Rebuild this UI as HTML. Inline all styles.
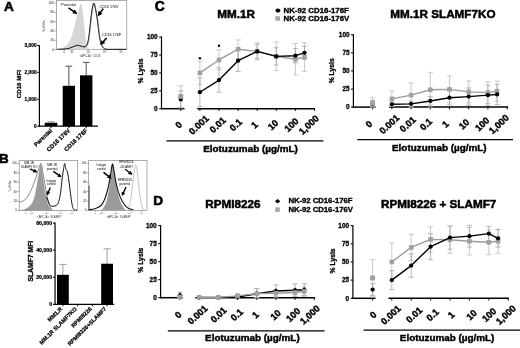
<!DOCTYPE html>
<html><head><meta charset="utf-8"><title>Figure</title>
<style>html,body{margin:0;padding:0;background:#fff;}svg{display:block;}text{font-family:'Liberation Sans', Arial, sans-serif;}</style>
</head><body>
<svg width="520" height="348" viewBox="0 0 520 348">
<rect width="520" height="348" fill="#fff"/>
<defs><marker id="ah" viewBox="0 0 10 10" refX="7" refY="5" markerWidth="3.0" markerHeight="3.0" orient="auto"><path d="M0,0 L10,5 L0,10 z" fill="#000"/></marker></defs>
<filter id="soft2" x="0" y="0" width="520" height="348" filterUnits="userSpaceOnUse"><feGaussianBlur stdDeviation="0.28"/></filter>
<g id="axes" filter="url(#soft2)">
<line x1="39.40" y1="45.20" x2="39.40" y2="126.75" stroke="#000" stroke-width="1.2"/>
<line x1="38.80" y1="126.15" x2="98.00" y2="126.15" stroke="#000" stroke-width="1.2"/>
<line x1="37.20" y1="126.15" x2="39.40" y2="126.15" stroke="#000" stroke-width="1.0"/>
<line x1="37.20" y1="99.25" x2="39.40" y2="99.25" stroke="#000" stroke-width="1.0"/>
<line x1="37.20" y1="72.35" x2="39.40" y2="72.35" stroke="#000" stroke-width="1.0"/>
<line x1="37.20" y1="45.45" x2="39.40" y2="45.45" stroke="#000" stroke-width="1.0"/>
<line x1="51.00" y1="126.15" x2="51.00" y2="128.15" stroke="#000" stroke-width="1.0"/>
<line x1="68.90" y1="126.15" x2="68.90" y2="128.15" stroke="#000" stroke-width="1.0"/>
<line x1="86.20" y1="126.15" x2="86.20" y2="128.15" stroke="#000" stroke-width="1.0"/>
<line x1="55.05" y1="222.40" x2="55.05" y2="304.90" stroke="#000" stroke-width="1.2"/>
<line x1="54.25" y1="304.30" x2="114.20" y2="304.30" stroke="#000" stroke-width="1.2"/>
<line x1="52.85" y1="304.30" x2="55.05" y2="304.30" stroke="#000" stroke-width="1.0"/>
<line x1="52.85" y1="277.25" x2="55.05" y2="277.25" stroke="#000" stroke-width="1.0"/>
<line x1="52.85" y1="250.20" x2="55.05" y2="250.20" stroke="#000" stroke-width="1.0"/>
<line x1="52.85" y1="223.15" x2="55.05" y2="223.15" stroke="#000" stroke-width="1.0"/>
<line x1="62.90" y1="304.30" x2="62.90" y2="306.30" stroke="#000" stroke-width="1.0"/>
<line x1="77.60" y1="304.30" x2="77.60" y2="306.30" stroke="#000" stroke-width="1.0"/>
<line x1="92.40" y1="304.30" x2="92.40" y2="306.30" stroke="#000" stroke-width="1.0"/>
<line x1="107.10" y1="304.30" x2="107.10" y2="306.30" stroke="#000" stroke-width="1.0"/>
<line x1="161.50" y1="36.45" x2="161.50" y2="109.30" stroke="#000" stroke-width="1.2"/>
<line x1="159.20" y1="108.70" x2="161.50" y2="108.70" stroke="#000" stroke-width="1.1"/>
<line x1="159.20" y1="90.79" x2="161.50" y2="90.79" stroke="#000" stroke-width="1.1"/>
<line x1="159.20" y1="72.88" x2="161.50" y2="72.88" stroke="#000" stroke-width="1.1"/>
<line x1="159.20" y1="54.96" x2="161.50" y2="54.96" stroke="#000" stroke-width="1.1"/>
<line x1="159.20" y1="37.05" x2="161.50" y2="37.05" stroke="#000" stroke-width="1.1"/>
<line x1="160.90" y1="108.70" x2="184.50" y2="108.70" stroke="#000" stroke-width="1.5"/>
<line x1="197.20" y1="108.70" x2="315.10" y2="108.70" stroke="#000" stroke-width="1.5"/>
<line x1="180.80" y1="108.70" x2="180.80" y2="110.90" stroke="#000" stroke-width="1.0"/>
<line x1="199.90" y1="108.70" x2="199.90" y2="110.90" stroke="#000" stroke-width="1.0"/>
<line x1="219.00" y1="108.70" x2="219.00" y2="110.90" stroke="#000" stroke-width="1.0"/>
<line x1="238.10" y1="108.70" x2="238.10" y2="110.90" stroke="#000" stroke-width="1.0"/>
<line x1="257.20" y1="108.70" x2="257.20" y2="110.90" stroke="#000" stroke-width="1.0"/>
<line x1="276.30" y1="108.70" x2="276.30" y2="110.90" stroke="#000" stroke-width="1.0"/>
<line x1="295.40" y1="108.70" x2="295.40" y2="110.90" stroke="#000" stroke-width="1.0"/>
<line x1="314.50" y1="108.70" x2="314.50" y2="110.90" stroke="#000" stroke-width="1.0"/>
<line x1="166.50" y1="140.80" x2="323.40" y2="140.80" stroke="#000" stroke-width="1.2"/>
<line x1="353.40" y1="34.20" x2="353.40" y2="107.70" stroke="#000" stroke-width="1.2"/>
<line x1="351.10" y1="107.10" x2="353.40" y2="107.10" stroke="#000" stroke-width="1.1"/>
<line x1="351.10" y1="89.02" x2="353.40" y2="89.02" stroke="#000" stroke-width="1.1"/>
<line x1="351.10" y1="70.95" x2="353.40" y2="70.95" stroke="#000" stroke-width="1.1"/>
<line x1="351.10" y1="52.87" x2="353.40" y2="52.87" stroke="#000" stroke-width="1.1"/>
<line x1="351.10" y1="34.80" x2="353.40" y2="34.80" stroke="#000" stroke-width="1.1"/>
<line x1="352.80" y1="107.10" x2="375.60" y2="107.10" stroke="#000" stroke-width="1.5"/>
<line x1="389.00" y1="107.10" x2="508.10" y2="107.10" stroke="#000" stroke-width="1.5"/>
<line x1="372.60" y1="107.10" x2="372.60" y2="109.30" stroke="#000" stroke-width="1.0"/>
<line x1="391.90" y1="107.10" x2="391.90" y2="109.30" stroke="#000" stroke-width="1.0"/>
<line x1="411.10" y1="107.10" x2="411.10" y2="109.30" stroke="#000" stroke-width="1.0"/>
<line x1="430.30" y1="107.10" x2="430.30" y2="109.30" stroke="#000" stroke-width="1.0"/>
<line x1="449.50" y1="107.10" x2="449.50" y2="109.30" stroke="#000" stroke-width="1.0"/>
<line x1="468.70" y1="107.10" x2="468.70" y2="109.30" stroke="#000" stroke-width="1.0"/>
<line x1="487.90" y1="107.10" x2="487.90" y2="109.30" stroke="#000" stroke-width="1.0"/>
<line x1="507.10" y1="107.10" x2="507.10" y2="109.30" stroke="#000" stroke-width="1.0"/>
<line x1="357.30" y1="139.60" x2="513.00" y2="139.60" stroke="#000" stroke-width="1.2"/>
<line x1="160.60" y1="225.00" x2="160.60" y2="298.30" stroke="#000" stroke-width="1.2"/>
<line x1="158.30" y1="297.70" x2="160.60" y2="297.70" stroke="#000" stroke-width="1.1"/>
<line x1="158.30" y1="279.68" x2="160.60" y2="279.68" stroke="#000" stroke-width="1.1"/>
<line x1="158.30" y1="261.65" x2="160.60" y2="261.65" stroke="#000" stroke-width="1.1"/>
<line x1="158.30" y1="243.62" x2="160.60" y2="243.62" stroke="#000" stroke-width="1.1"/>
<line x1="158.30" y1="225.60" x2="160.60" y2="225.60" stroke="#000" stroke-width="1.1"/>
<line x1="160.00" y1="297.70" x2="183.00" y2="297.70" stroke="#000" stroke-width="1.5"/>
<line x1="195.40" y1="297.70" x2="315.10" y2="297.70" stroke="#000" stroke-width="1.5"/>
<line x1="180.00" y1="297.70" x2="180.00" y2="299.90" stroke="#000" stroke-width="1.0"/>
<line x1="199.20" y1="297.70" x2="199.20" y2="299.90" stroke="#000" stroke-width="1.0"/>
<line x1="218.37" y1="297.70" x2="218.37" y2="299.90" stroke="#000" stroke-width="1.0"/>
<line x1="237.54" y1="297.70" x2="237.54" y2="299.90" stroke="#000" stroke-width="1.0"/>
<line x1="256.71" y1="297.70" x2="256.71" y2="299.90" stroke="#000" stroke-width="1.0"/>
<line x1="275.88" y1="297.70" x2="275.88" y2="299.90" stroke="#000" stroke-width="1.0"/>
<line x1="295.05" y1="297.70" x2="295.05" y2="299.90" stroke="#000" stroke-width="1.0"/>
<line x1="314.22" y1="297.70" x2="314.22" y2="299.90" stroke="#000" stroke-width="1.0"/>
<line x1="167.80" y1="330.80" x2="324.60" y2="330.80" stroke="#000" stroke-width="1.2"/>
<line x1="352.90" y1="225.00" x2="352.90" y2="298.90" stroke="#000" stroke-width="1.2"/>
<line x1="350.60" y1="298.30" x2="352.90" y2="298.30" stroke="#000" stroke-width="1.1"/>
<line x1="350.60" y1="280.12" x2="352.90" y2="280.12" stroke="#000" stroke-width="1.1"/>
<line x1="350.60" y1="261.95" x2="352.90" y2="261.95" stroke="#000" stroke-width="1.1"/>
<line x1="350.60" y1="243.78" x2="352.90" y2="243.78" stroke="#000" stroke-width="1.1"/>
<line x1="350.60" y1="225.60" x2="352.90" y2="225.60" stroke="#000" stroke-width="1.1"/>
<line x1="352.30" y1="298.30" x2="375.60" y2="298.30" stroke="#000" stroke-width="1.5"/>
<line x1="388.40" y1="298.30" x2="508.90" y2="298.30" stroke="#000" stroke-width="1.5"/>
<line x1="372.60" y1="298.30" x2="372.60" y2="300.50" stroke="#000" stroke-width="1.0"/>
<line x1="391.80" y1="298.30" x2="391.80" y2="300.50" stroke="#000" stroke-width="1.0"/>
<line x1="411.20" y1="298.30" x2="411.20" y2="300.50" stroke="#000" stroke-width="1.0"/>
<line x1="430.60" y1="298.30" x2="430.60" y2="300.50" stroke="#000" stroke-width="1.0"/>
<line x1="450.00" y1="298.30" x2="450.00" y2="300.50" stroke="#000" stroke-width="1.0"/>
<line x1="469.40" y1="298.30" x2="469.40" y2="300.50" stroke="#000" stroke-width="1.0"/>
<line x1="488.80" y1="298.30" x2="488.80" y2="300.50" stroke="#000" stroke-width="1.0"/>
<line x1="508.20" y1="298.30" x2="508.20" y2="300.50" stroke="#000" stroke-width="1.0"/>
<line x1="363.50" y1="330.20" x2="520.00" y2="330.20" stroke="#000" stroke-width="1.2"/>
</g>
<filter id="soft" x="0" y="0" width="520" height="348" filterUnits="userSpaceOnUse"><feGaussianBlur stdDeviation="0.45"/></filter>
<g id="main" filter="url(#soft)">
<text x="3.90" y="11.30" font-size="13.6" font-weight="bold" text-anchor="start" fill="#000" stroke="#000" stroke-width="0.612">A</text>
<text x="-1.00" y="163.30" font-size="13.4" font-weight="bold" text-anchor="start" fill="#000" stroke="#000" stroke-width="0.603">B</text>
<text x="154.70" y="11.10" font-size="13.8" font-weight="bold" text-anchor="start" fill="#000" stroke="#000" stroke-width="0.621">C</text>
<text x="153.20" y="204.60" font-size="13.6" font-weight="bold" text-anchor="start" fill="#000" stroke="#000" stroke-width="0.612">D</text>
<rect x="56.4" y="0.6" width="70.4" height="49.0" fill="#fff" stroke="#8a8a8a" stroke-width="0.7"/>
<path d="M58.00,49.40 C58.58,49.27 60.17,49.17 61.50,48.60 C62.83,48.03 64.55,47.30 66.00,46.00 C67.45,44.70 68.93,43.30 70.20,40.80 C71.47,38.30 72.53,34.63 73.60,31.00 C74.67,27.37 75.70,22.50 76.60,19.00 C77.50,15.50 78.27,12.53 79.00,10.00 C79.73,7.47 80.45,3.75 81.00,3.80 C81.55,3.85 81.87,7.20 82.30,10.30 C82.73,13.40 83.18,18.37 83.60,22.40 C84.02,26.43 84.38,30.77 84.80,34.50 C85.22,38.23 85.53,42.42 86.10,44.80 C86.67,47.18 87.38,48.03 88.20,48.80 C89.02,49.57 90.53,49.30 91.00,49.40 Z" fill="#d6d6d6" stroke="#cdcdcd" stroke-width="0.5"/>
<path d="M57.20,49.30 C58.33,49.25 62.00,49.17 64.00,49.00 C66.00,48.83 67.47,48.77 69.20,48.30 C70.93,47.83 73.02,46.72 74.40,46.20 C75.78,45.68 76.35,45.20 77.50,45.20 C78.65,45.20 80.08,45.97 81.30,46.20 C82.52,46.43 83.80,46.97 84.80,46.60 C85.80,46.23 86.58,46.02 87.30,44.00 C88.02,41.98 88.52,38.67 89.10,34.50 C89.68,30.33 90.23,23.60 90.80,19.00 C91.37,14.40 91.98,9.55 92.50,6.90 C93.02,4.25 93.42,2.82 93.90,3.10 C94.38,3.38 94.85,5.95 95.40,8.60 C95.95,11.25 96.62,14.97 97.20,19.00 C97.78,23.03 98.33,28.93 98.90,32.80 C99.47,36.67 99.93,39.77 100.60,42.20 C101.27,44.63 101.95,46.23 102.90,47.40 C103.85,48.57 104.28,48.88 106.30,49.20 C108.32,49.52 111.65,49.28 115.00,49.30 C118.35,49.32 124.50,49.30 126.40,49.30" fill="none" stroke="#111" stroke-width="1.0" stroke-linejoin="round"/>
<path d="M74.90,46.60 C75.42,46.43 76.85,45.60 78.00,45.60 C79.15,45.60 80.58,46.37 81.80,46.60 C83.02,46.83 84.30,47.37 85.30,47.00 C86.30,46.63 87.08,46.42 87.80,44.40 C88.52,42.38 89.02,39.07 89.60,34.90 C90.18,30.73 90.73,24.00 91.30,19.40 C91.87,14.80 92.48,9.95 93.00,7.30 C93.52,4.65 93.92,3.22 94.40,3.50 C94.88,3.78 95.35,6.35 95.90,9.00 C96.45,11.65 97.12,15.37 97.70,19.40 C98.28,23.43 98.83,29.33 99.40,33.20 C99.97,37.07 100.43,40.17 101.10,42.60 C101.77,45.03 102.45,46.63 103.40,47.80 C104.35,48.97 106.23,49.30 106.80,49.60" fill="none" stroke="#555" stroke-width="0.5"/>
<line x1="54.40" y1="3.10" x2="56.40" y2="3.10" stroke="#444" stroke-width="0.5"/>
<text x="53.60" y="4.05" font-size="2.9" font-weight="normal" text-anchor="end" fill="#111">100</text>
<line x1="54.40" y1="12.40" x2="56.40" y2="12.40" stroke="#444" stroke-width="0.5"/>
<text x="53.60" y="13.35" font-size="2.9" font-weight="normal" text-anchor="end" fill="#111">80</text>
<line x1="54.40" y1="21.70" x2="56.40" y2="21.70" stroke="#444" stroke-width="0.5"/>
<text x="53.60" y="22.65" font-size="2.9" font-weight="normal" text-anchor="end" fill="#111">60</text>
<line x1="54.40" y1="31.00" x2="56.40" y2="31.00" stroke="#444" stroke-width="0.5"/>
<text x="53.60" y="31.95" font-size="2.9" font-weight="normal" text-anchor="end" fill="#111">40</text>
<line x1="54.40" y1="40.30" x2="56.40" y2="40.30" stroke="#444" stroke-width="0.5"/>
<text x="53.60" y="41.25" font-size="2.9" font-weight="normal" text-anchor="end" fill="#111">20</text>
<line x1="54.40" y1="49.60" x2="56.40" y2="49.60" stroke="#444" stroke-width="0.5"/>
<text x="53.60" y="50.55" font-size="2.9" font-weight="normal" text-anchor="end" fill="#111">0</text>
<text transform="translate(45.20,26.00) rotate(-90)" font-size="2.8" font-weight="normal" text-anchor="middle" fill="#333">% of Max</text>
<line x1="64.20" y1="49.70" x2="64.20" y2="50.60" stroke="#444" stroke-width="0.5"/>
<text x="64.20" y="53.00" font-size="2.6" font-weight="normal" text-anchor="middle" fill="#333">0</text>
<line x1="72.00" y1="49.70" x2="72.00" y2="50.60" stroke="#444" stroke-width="0.5"/>
<text x="72.00" y="53.00" font-size="2.6" font-weight="normal" text-anchor="middle" fill="#333">10²</text>
<line x1="88.40" y1="49.70" x2="88.40" y2="50.60" stroke="#444" stroke-width="0.5"/>
<text x="88.40" y="53.00" font-size="2.6" font-weight="normal" text-anchor="middle" fill="#333">10³</text>
<line x1="105.00" y1="49.70" x2="105.00" y2="50.60" stroke="#444" stroke-width="0.5"/>
<text x="105.00" y="53.00" font-size="2.6" font-weight="normal" text-anchor="middle" fill="#333">10⁴</text>
<line x1="121.30" y1="49.70" x2="121.30" y2="50.60" stroke="#444" stroke-width="0.5"/>
<text x="121.30" y="53.00" font-size="2.6" font-weight="normal" text-anchor="middle" fill="#333">10⁵</text>
<text x="90.00" y="57.00" font-size="2.8" font-weight="normal" text-anchor="middle" fill="#333">&lt;APC-A&gt;: CD16</text>
<text x="68.50" y="6.30" font-size="3.9" font-weight="normal" text-anchor="middle" fill="#000">Parental</text>
<line x1="68.5" y1="7.8" x2="76.2" y2="13.2" stroke="#000" stroke-width="1.625" marker-end="url(#ah)"/>
<text x="109.00" y="7.70" font-size="3.65" font-weight="normal" text-anchor="middle" fill="#000">CD16 176V</text>
<line x1="103.2" y1="8.6" x2="98.6" y2="15.0" stroke="#000" stroke-width="1.625" marker-end="url(#ah)"/>
<text x="111.60" y="36.20" font-size="3.75" font-weight="normal" text-anchor="middle" fill="#000">CD16 176F</text>
<line x1="106.6" y1="38" x2="101.2" y2="44.0" stroke="#000" stroke-width="1.625" marker-end="url(#ah)"/>
<text x="36.60" y="127.90" font-size="4.8" font-weight="bold" text-anchor="end" fill="#000" stroke="#000" stroke-width="0.216">0</text>
<text x="36.60" y="101.00" font-size="4.8" font-weight="bold" text-anchor="end" fill="#000" stroke="#000" stroke-width="0.216">1,000</text>
<text x="36.60" y="74.10" font-size="4.8" font-weight="bold" text-anchor="end" fill="#000" stroke="#000" stroke-width="0.216">2,000</text>
<text x="36.60" y="47.20" font-size="4.8" font-weight="bold" text-anchor="end" fill="#000" stroke="#000" stroke-width="0.216">3,000</text>
<line x1="47.50" y1="121.85" x2="54.50" y2="121.85" stroke="#333" stroke-width="0.6"/>
<rect x="44.7" y="122.79" width="12.60" height="3.36" fill="#000"/>
<line x1="68.85" y1="66.16" x2="68.85" y2="85.80" stroke="#3c3c3c" stroke-width="0.9"/>
<line x1="65.45" y1="66.16" x2="72.25" y2="66.16" stroke="#3c3c3c" stroke-width="0.9"/>
<rect x="62.7" y="85.80" width="12.30" height="40.35" fill="#000"/>
<line x1="86.20" y1="62.40" x2="86.20" y2="75.31" stroke="#3c3c3c" stroke-width="0.9"/>
<line x1="82.80" y1="62.40" x2="89.60" y2="62.40" stroke="#3c3c3c" stroke-width="0.9"/>
<rect x="80.0" y="75.31" width="12.40" height="50.84" fill="#000"/>
<text transform="translate(20.70,84.20) rotate(-90)" font-size="6.2" font-weight="bold" text-anchor="middle" fill="#000" stroke="#000" stroke-width="0.279">CD16 MFI</text>
<text transform="translate(52.60,131.05) rotate(-44)" font-size="5.8" font-weight="bold" text-anchor="end" fill="#000" stroke="#000" stroke-width="0.261">Parental</text>
<text transform="translate(70.50,131.05) rotate(-44)" font-size="5.8" font-weight="bold" text-anchor="end" fill="#000" stroke="#000" stroke-width="0.261">CD16 176V</text>
<text transform="translate(87.80,131.05) rotate(-44)" font-size="5.8" font-weight="bold" text-anchor="end" fill="#000" stroke="#000" stroke-width="0.261">CD16 176F</text>
<rect x="19.2" y="160.5" width="58.5" height="50.0" fill="#fff" stroke="#8a8a8a" stroke-width="0.7"/>
<path d="M19.40,202.20 C20.00,202.02 21.72,201.90 23.00,201.10 C24.28,200.30 25.75,199.22 27.10,197.40 C28.45,195.58 29.90,192.75 31.10,190.20 C32.30,187.65 33.23,185.05 34.30,182.10 C35.37,179.15 36.57,175.32 37.50,172.50 C38.43,169.68 39.28,166.65 39.90,165.20 C40.52,163.75 40.65,162.32 41.20,163.80 C41.75,165.28 42.53,170.40 43.20,174.10 C43.87,177.80 44.53,182.25 45.20,186.00 C45.87,189.75 46.47,193.35 47.20,196.60 C47.93,199.85 48.80,203.35 49.60,205.50 C50.40,207.65 51.60,208.83 52.00,209.50" fill="none" stroke="#7c7c7c" stroke-width="0.9"/>
<path d="M21.00,210.30 C21.20,210.28 21.32,210.47 22.20,210.20 C23.08,209.93 24.82,209.62 26.30,208.70 C27.78,207.78 29.77,206.45 31.10,204.70 C32.43,202.95 33.37,201.15 34.30,198.20 C35.23,195.25 35.95,191.02 36.70,187.00 C37.45,182.98 38.13,177.90 38.80,174.10 C39.47,170.30 40.10,164.20 40.70,164.20 C41.30,164.20 41.85,170.57 42.40,174.10 C42.95,177.63 43.42,181.65 44.00,185.40 C44.58,189.15 45.23,193.38 45.90,196.60 C46.57,199.82 47.12,202.55 48.00,204.70 C48.88,206.85 50.37,208.57 51.20,209.50 C52.03,210.43 52.70,210.17 53.00,210.30 Z" fill="#9b9b9b" stroke="#909090" stroke-width="0.4"/>
<path d="M46.40,196.60 C46.93,197.95 48.53,203.08 49.60,204.70 C50.67,206.32 51.53,206.30 52.80,206.30 C54.07,206.30 56.13,205.78 57.20,204.70 C58.27,203.62 58.58,202.22 59.20,199.80 C59.82,197.38 60.42,193.68 60.90,190.20 C61.38,186.72 61.70,182.12 62.10,178.90 C62.50,175.68 62.88,173.45 63.30,170.90 C63.72,168.35 64.20,164.00 64.60,163.60 C65.00,163.20 65.25,167.15 65.70,168.50 C66.15,169.85 66.82,169.97 67.30,171.70 C67.78,173.43 68.07,175.28 68.60,178.90 C69.13,182.52 69.92,189.10 70.50,193.40 C71.08,197.70 71.57,202.07 72.10,204.70 C72.63,207.33 72.88,208.28 73.70,209.20 C74.52,210.12 76.45,210.03 77.00,210.20" fill="none" stroke="#111" stroke-width="1.0" stroke-linejoin="round"/>
<rect x="88.7" y="160.5" width="58.3" height="50.0" fill="#fff" stroke="#8a8a8a" stroke-width="0.7"/>
<path d="M126.00,210.20 C126.40,210.08 127.58,211.50 128.40,209.50 C129.22,207.50 130.22,202.22 130.90,198.20 C131.58,194.18 131.97,189.68 132.50,185.40 C133.03,181.12 133.57,175.87 134.10,172.50 C134.63,169.13 135.17,165.20 135.70,165.20 C136.23,165.20 136.77,168.87 137.30,172.50 C137.83,176.13 138.37,182.45 138.90,187.00 C139.43,191.55 139.83,196.18 140.50,199.80 C141.17,203.42 142.10,207.00 142.90,208.70 C143.70,210.40 144.90,209.78 145.30,210.00" fill="none" stroke="#b2b2b2" stroke-width="0.8"/>
<path d="M99.00,210.30 C99.48,210.17 100.75,210.72 101.90,209.50 C103.05,208.28 104.75,206.22 105.90,203.00 C107.05,199.78 107.98,194.70 108.80,190.20 C109.62,185.70 110.20,180.17 110.80,176.00 C111.40,171.83 111.73,164.98 112.40,165.20 C113.07,165.42 114.00,173.13 114.80,177.30 C115.60,181.47 116.27,186.18 117.20,190.20 C118.13,194.22 119.20,198.32 120.40,201.40 C121.60,204.48 123.30,207.22 124.40,208.70 C125.50,210.18 126.57,210.03 127.00,210.30 Z" fill="#9b9b9b" stroke="none"/>
<path d="M89.00,209.80 C89.95,209.62 92.68,209.42 94.70,208.70 C96.72,207.98 99.37,207.25 101.10,205.50 C102.83,203.75 103.90,201.28 105.10,198.20 C106.30,195.12 107.42,190.75 108.30,187.00 C109.18,183.25 109.72,179.50 110.40,175.70 C111.08,171.90 111.80,165.00 112.40,164.20 C113.00,163.40 113.42,167.92 114.00,170.90 C114.58,173.88 115.10,178.35 115.90,182.10 C116.70,185.85 117.65,190.05 118.80,193.40 C119.95,196.75 121.33,199.78 122.80,202.20 C124.27,204.62 125.85,206.63 127.60,207.90 C129.35,209.17 132.35,209.48 133.30,209.80" fill="none" stroke="#111" stroke-width="1.1" stroke-linejoin="round"/>
<line x1="89.10" y1="185.50" x2="89.10" y2="210.40" stroke="#222" stroke-width="0.8"/>
<line x1="17.40" y1="163.40" x2="19.20" y2="163.40" stroke="#444" stroke-width="0.5"/>
<text x="16.70" y="164.35" font-size="2.7" font-weight="normal" text-anchor="end" fill="#111">100</text>
<line x1="17.40" y1="172.80" x2="19.20" y2="172.80" stroke="#444" stroke-width="0.5"/>
<text x="16.70" y="173.75" font-size="2.7" font-weight="normal" text-anchor="end" fill="#111">80</text>
<line x1="17.40" y1="182.20" x2="19.20" y2="182.20" stroke="#444" stroke-width="0.5"/>
<text x="16.70" y="183.15" font-size="2.7" font-weight="normal" text-anchor="end" fill="#111">60</text>
<line x1="17.40" y1="191.60" x2="19.20" y2="191.60" stroke="#444" stroke-width="0.5"/>
<text x="16.70" y="192.55" font-size="2.7" font-weight="normal" text-anchor="end" fill="#111">40</text>
<line x1="17.40" y1="201.00" x2="19.20" y2="201.00" stroke="#444" stroke-width="0.5"/>
<text x="16.70" y="201.95" font-size="2.7" font-weight="normal" text-anchor="end" fill="#111">20</text>
<line x1="17.40" y1="210.40" x2="19.20" y2="210.40" stroke="#444" stroke-width="0.5"/>
<text x="16.70" y="211.35" font-size="2.7" font-weight="normal" text-anchor="end" fill="#111">0</text>
<text transform="translate(11.00,186.00) rotate(-90)" font-size="2.6" font-weight="normal" text-anchor="middle" fill="#333">% of Max</text>
<line x1="25.80" y1="210.80" x2="25.80" y2="211.70" stroke="#444" stroke-width="0.5"/>
<text x="25.80" y="214.20" font-size="2.4" font-weight="normal" text-anchor="middle" fill="#333">0</text>
<line x1="31.80" y1="210.80" x2="31.80" y2="211.70" stroke="#444" stroke-width="0.5"/>
<text x="31.80" y="214.20" font-size="2.4" font-weight="normal" text-anchor="middle" fill="#333">10²</text>
<line x1="46.50" y1="210.80" x2="46.50" y2="211.70" stroke="#444" stroke-width="0.5"/>
<text x="46.50" y="214.20" font-size="2.4" font-weight="normal" text-anchor="middle" fill="#333">10³</text>
<line x1="60.40" y1="210.80" x2="60.40" y2="211.70" stroke="#444" stroke-width="0.5"/>
<text x="60.40" y="214.20" font-size="2.4" font-weight="normal" text-anchor="middle" fill="#333">10⁴</text>
<line x1="72.10" y1="210.80" x2="72.10" y2="211.70" stroke="#444" stroke-width="0.5"/>
<text x="72.10" y="214.20" font-size="2.4" font-weight="normal" text-anchor="middle" fill="#333">10⁵</text>
<text x="49.20" y="218.20" font-size="2.8" font-weight="normal" text-anchor="middle" fill="#333">&lt;APC-A&gt;: SLAMF7</text>
<line x1="87.00" y1="163.40" x2="88.80" y2="163.40" stroke="#444" stroke-width="0.5"/>
<text x="86.30" y="164.35" font-size="2.7" font-weight="normal" text-anchor="end" fill="#111">100</text>
<line x1="87.00" y1="172.80" x2="88.80" y2="172.80" stroke="#444" stroke-width="0.5"/>
<text x="86.30" y="173.75" font-size="2.7" font-weight="normal" text-anchor="end" fill="#111">80</text>
<line x1="87.00" y1="182.20" x2="88.80" y2="182.20" stroke="#444" stroke-width="0.5"/>
<text x="86.30" y="183.15" font-size="2.7" font-weight="normal" text-anchor="end" fill="#111">60</text>
<line x1="87.00" y1="191.60" x2="88.80" y2="191.60" stroke="#444" stroke-width="0.5"/>
<text x="86.30" y="192.55" font-size="2.7" font-weight="normal" text-anchor="end" fill="#111">40</text>
<line x1="87.00" y1="201.00" x2="88.80" y2="201.00" stroke="#444" stroke-width="0.5"/>
<text x="86.30" y="201.95" font-size="2.7" font-weight="normal" text-anchor="end" fill="#111">20</text>
<line x1="87.00" y1="210.40" x2="88.80" y2="210.40" stroke="#444" stroke-width="0.5"/>
<text x="86.30" y="211.35" font-size="2.7" font-weight="normal" text-anchor="end" fill="#111">0</text>
<line x1="95.40" y1="210.80" x2="95.40" y2="211.70" stroke="#444" stroke-width="0.5"/>
<text x="95.40" y="214.20" font-size="2.4" font-weight="normal" text-anchor="middle" fill="#333">0</text>
<line x1="101.40" y1="210.80" x2="101.40" y2="211.70" stroke="#444" stroke-width="0.5"/>
<text x="101.40" y="214.20" font-size="2.4" font-weight="normal" text-anchor="middle" fill="#333">10²</text>
<line x1="116.10" y1="210.80" x2="116.10" y2="211.70" stroke="#444" stroke-width="0.5"/>
<text x="116.10" y="214.20" font-size="2.4" font-weight="normal" text-anchor="middle" fill="#333">10³</text>
<line x1="130.00" y1="210.80" x2="130.00" y2="211.70" stroke="#444" stroke-width="0.5"/>
<text x="130.00" y="214.20" font-size="2.4" font-weight="normal" text-anchor="middle" fill="#333">10⁴</text>
<line x1="141.70" y1="210.80" x2="141.70" y2="211.70" stroke="#444" stroke-width="0.5"/>
<text x="141.70" y="214.20" font-size="2.4" font-weight="normal" text-anchor="middle" fill="#333">10⁵</text>
<text x="118.80" y="218.20" font-size="2.8" font-weight="normal" text-anchor="middle" fill="#333">&lt;APC-A&gt;: SLAMF7</text>
<text x="29.20" y="163.90" font-size="3.0" font-weight="normal" text-anchor="middle" fill="#000">MM.1R</text>
<text x="29.20" y="167.90" font-size="3.0" font-weight="normal" text-anchor="middle" fill="#000">SLAMF7 KO</text>
<line x1="30" y1="168.8" x2="36.4" y2="171.8" stroke="#000" stroke-width="1.375" marker-end="url(#ah)"/>
<text x="52.20" y="166.30" font-size="3.0" font-weight="normal" text-anchor="middle" fill="#000">MM.1R</text>
<text x="52.20" y="170.30" font-size="3.0" font-weight="normal" text-anchor="middle" fill="#000">parental</text>
<line x1="53.4" y1="171.4" x2="60.6" y2="176.6" stroke="#000" stroke-width="1.375" marker-end="url(#ah)"/>
<text x="51.30" y="181.60" font-size="3.0" font-weight="normal" text-anchor="middle" fill="#000">Isotype</text>
<text x="51.30" y="185.40" font-size="3.0" font-weight="normal" text-anchor="middle" fill="#000">control</text>
<line x1="50.3" y1="187.5" x2="47.3" y2="194.4" stroke="#000" stroke-width="1.375" marker-end="url(#ah)"/>
<text x="101.40" y="166.00" font-size="3.0" font-weight="normal" text-anchor="middle" fill="#000">Isotype</text>
<text x="101.40" y="170.20" font-size="3.0" font-weight="normal" text-anchor="middle" fill="#000">control</text>
<line x1="103.5" y1="172.3" x2="110.6" y2="177.9" stroke="#000" stroke-width="1.5" marker-end="url(#ah)"/>
<text x="126.30" y="163.30" font-size="3.0" font-weight="normal" text-anchor="middle" fill="#000">RPMI8226</text>
<text x="126.30" y="167.80" font-size="3.0" font-weight="normal" text-anchor="middle" fill="#000">+SLAMF7</text>
<line x1="125.2" y1="169.2" x2="131.5" y2="174.0" stroke="#000" stroke-width="1.375" marker-end="url(#ah)"/>
<text x="124.80" y="180.70" font-size="3.0" font-weight="normal" text-anchor="middle" fill="#000">RPMI8226</text>
<text x="124.80" y="185.00" font-size="3.0" font-weight="normal" text-anchor="middle" fill="#000">parental</text>
<line x1="126" y1="187" x2="122.4" y2="194.9" stroke="#000" stroke-width="1.375" marker-end="url(#ah)"/>
<text x="52.05" y="306.20" font-size="5.2" font-weight="bold" text-anchor="end" fill="#000" stroke="#000" stroke-width="0.234">0</text>
<text x="52.05" y="279.15" font-size="5.2" font-weight="bold" text-anchor="end" fill="#000" stroke="#000" stroke-width="0.234">20,000</text>
<text x="52.05" y="252.10" font-size="5.2" font-weight="bold" text-anchor="end" fill="#000" stroke="#000" stroke-width="0.234">40,000</text>
<text x="52.05" y="225.05" font-size="5.2" font-weight="bold" text-anchor="end" fill="#000" stroke="#000" stroke-width="0.234">60,000</text>
<line x1="62.90" y1="264.40" x2="62.90" y2="274.82" stroke="#8a8a8a" stroke-width="0.8"/>
<line x1="59.30" y1="264.40" x2="66.50" y2="264.40" stroke="#8a8a8a" stroke-width="0.8"/>
<rect x="57.0" y="274.82" width="11.80" height="29.48" fill="#000"/>
<line x1="107.10" y1="248.85" x2="107.10" y2="263.73" stroke="#8a8a8a" stroke-width="0.8"/>
<line x1="103.50" y1="248.85" x2="110.70" y2="248.85" stroke="#8a8a8a" stroke-width="0.8"/>
<rect x="101.2" y="263.73" width="11.80" height="40.57" fill="#000"/>
<text transform="translate(33.20,261.20) rotate(-90)" font-size="6.8" font-weight="bold" text-anchor="middle" fill="#000" stroke="#000" stroke-width="0.306">SLAMF7 MFI</text>
<text transform="translate(62.60,309.30) rotate(-45)" font-size="5.6" font-weight="bold" text-anchor="end" fill="#000" stroke="#000" stroke-width="0.252">MM1.R</text>
<text transform="translate(77.30,309.30) rotate(-45)" font-size="5.6" font-weight="bold" text-anchor="end" fill="#000" stroke="#000" stroke-width="0.252">MM.1R SLAMF7KO</text>
<text transform="translate(92.10,309.30) rotate(-45)" font-size="5.6" font-weight="bold" text-anchor="end" fill="#000" stroke="#000" stroke-width="0.252">RPMI8226</text>
<text transform="translate(106.80,309.30) rotate(-45)" font-size="5.6" font-weight="bold" text-anchor="end" fill="#000" stroke="#000" stroke-width="0.252">RPMI8226+SLAMF7</text>
<ellipse cx="277.9" cy="10.6" rx="2.5" ry="2.1" fill="#000"/>
<text x="283.50" y="12.60" font-size="7.85" font-weight="bold" text-anchor="start" fill="#000" stroke="#000" stroke-width="0.353">NK-92 CD16-176F</text>
<rect x="275.4" y="16.2" width="4.6" height="4.5" fill="#a6a6a6"/>
<text x="283.50" y="21.30" font-size="7.85" font-weight="bold" text-anchor="start" fill="#000" stroke="#000" stroke-width="0.353">NK-92 CD16-176V</text>
<path d="M277.6,198.9 L280.3,201.2 L277.6,203.5 L274.9,201.2 Z" fill="#000"/>
<text x="288.40" y="203.30" font-size="7.7" font-weight="bold" text-anchor="start" fill="#000" stroke="#000" stroke-width="0.346">NK-92 CD16-176F</text>
<rect x="275.2" y="207.4" width="4.6" height="4.5" fill="#a8a8a8"/>
<text x="288.40" y="212.10" font-size="7.7" font-weight="bold" text-anchor="start" fill="#000" stroke="#000" stroke-width="0.346">NK-92 CD16-176V</text>
<text x="157.60" y="111.00" font-size="6.4" font-weight="bold" text-anchor="end" fill="#000" stroke="#000" stroke-width="0.288">0</text>
<text x="157.60" y="93.09" font-size="6.4" font-weight="bold" text-anchor="end" fill="#000" stroke="#000" stroke-width="0.288">25</text>
<text x="157.60" y="75.17" font-size="6.4" font-weight="bold" text-anchor="end" fill="#000" stroke="#000" stroke-width="0.288">50</text>
<text x="157.60" y="57.26" font-size="6.4" font-weight="bold" text-anchor="end" fill="#000" stroke="#000" stroke-width="0.288">75</text>
<text x="157.60" y="39.35" font-size="6.4" font-weight="bold" text-anchor="end" fill="#000" stroke="#000" stroke-width="0.288">100</text>
<text transform="translate(143.00,71.00) rotate(-90)" font-size="6.8" font-weight="bold" text-anchor="middle" fill="#000" stroke="#000" stroke-width="0.306">% Lysis</text>
<line x1="180.80" y1="85.77" x2="180.80" y2="107.27" stroke="#bdbdbd" stroke-width="0.8"/>
<line x1="178.20" y1="85.77" x2="183.40" y2="85.77" stroke="#bdbdbd" stroke-width="0.8"/>
<line x1="178.20" y1="107.27" x2="183.40" y2="107.27" stroke="#bdbdbd" stroke-width="0.8"/>
<line x1="199.90" y1="61.41" x2="199.90" y2="84.34" stroke="#bdbdbd" stroke-width="0.8"/>
<line x1="197.30" y1="61.41" x2="202.50" y2="61.41" stroke="#bdbdbd" stroke-width="0.8"/>
<line x1="197.30" y1="84.34" x2="202.50" y2="84.34" stroke="#bdbdbd" stroke-width="0.8"/>
<line x1="219.00" y1="49.95" x2="219.00" y2="70.01" stroke="#bdbdbd" stroke-width="0.8"/>
<line x1="216.40" y1="49.95" x2="221.60" y2="49.95" stroke="#bdbdbd" stroke-width="0.8"/>
<line x1="216.40" y1="70.01" x2="221.60" y2="70.01" stroke="#bdbdbd" stroke-width="0.8"/>
<line x1="238.10" y1="39.92" x2="238.10" y2="58.55" stroke="#bdbdbd" stroke-width="0.8"/>
<line x1="235.50" y1="39.92" x2="240.70" y2="39.92" stroke="#bdbdbd" stroke-width="0.8"/>
<line x1="235.50" y1="58.55" x2="240.70" y2="58.55" stroke="#bdbdbd" stroke-width="0.8"/>
<line x1="257.20" y1="42.78" x2="257.20" y2="59.98" stroke="#bdbdbd" stroke-width="0.8"/>
<line x1="254.60" y1="42.78" x2="259.80" y2="42.78" stroke="#bdbdbd" stroke-width="0.8"/>
<line x1="254.60" y1="59.98" x2="259.80" y2="59.98" stroke="#bdbdbd" stroke-width="0.8"/>
<line x1="276.30" y1="42.07" x2="276.30" y2="70.73" stroke="#bdbdbd" stroke-width="0.8"/>
<line x1="273.70" y1="42.07" x2="278.90" y2="42.07" stroke="#bdbdbd" stroke-width="0.8"/>
<line x1="273.70" y1="70.73" x2="278.90" y2="70.73" stroke="#bdbdbd" stroke-width="0.8"/>
<line x1="295.40" y1="43.50" x2="295.40" y2="75.02" stroke="#bdbdbd" stroke-width="0.8"/>
<line x1="292.80" y1="43.50" x2="298.00" y2="43.50" stroke="#bdbdbd" stroke-width="0.8"/>
<line x1="292.80" y1="75.02" x2="298.00" y2="75.02" stroke="#bdbdbd" stroke-width="0.8"/>
<line x1="304.51" y1="42.78" x2="304.51" y2="71.44" stroke="#bdbdbd" stroke-width="0.8"/>
<line x1="301.91" y1="42.78" x2="307.11" y2="42.78" stroke="#bdbdbd" stroke-width="0.8"/>
<line x1="301.91" y1="71.44" x2="307.11" y2="71.44" stroke="#bdbdbd" stroke-width="0.8"/>
<line x1="180.80" y1="90.79" x2="180.80" y2="107.98" stroke="#a6a6a6" stroke-width="0.8"/>
<line x1="178.20" y1="90.79" x2="183.40" y2="90.79" stroke="#a6a6a6" stroke-width="0.8"/>
<line x1="178.20" y1="107.98" x2="183.40" y2="107.98" stroke="#a6a6a6" stroke-width="0.8"/>
<line x1="199.90" y1="77.89" x2="199.90" y2="106.55" stroke="#a6a6a6" stroke-width="0.8"/>
<line x1="197.30" y1="77.89" x2="202.50" y2="77.89" stroke="#a6a6a6" stroke-width="0.8"/>
<line x1="197.30" y1="106.55" x2="202.50" y2="106.55" stroke="#a6a6a6" stroke-width="0.8"/>
<line x1="219.00" y1="67.86" x2="219.00" y2="92.22" stroke="#a6a6a6" stroke-width="0.8"/>
<line x1="216.40" y1="67.86" x2="221.60" y2="67.86" stroke="#a6a6a6" stroke-width="0.8"/>
<line x1="216.40" y1="92.22" x2="221.60" y2="92.22" stroke="#a6a6a6" stroke-width="0.8"/>
<line x1="238.10" y1="49.95" x2="238.10" y2="71.44" stroke="#a6a6a6" stroke-width="0.8"/>
<line x1="235.50" y1="49.95" x2="240.70" y2="49.95" stroke="#a6a6a6" stroke-width="0.8"/>
<line x1="235.50" y1="71.44" x2="240.70" y2="71.44" stroke="#a6a6a6" stroke-width="0.8"/>
<line x1="257.20" y1="44.22" x2="257.20" y2="58.55" stroke="#a6a6a6" stroke-width="0.8"/>
<line x1="254.60" y1="44.22" x2="259.80" y2="44.22" stroke="#a6a6a6" stroke-width="0.8"/>
<line x1="254.60" y1="58.55" x2="259.80" y2="58.55" stroke="#a6a6a6" stroke-width="0.8"/>
<line x1="276.30" y1="47.80" x2="276.30" y2="64.99" stroke="#a6a6a6" stroke-width="0.8"/>
<line x1="273.70" y1="47.80" x2="278.90" y2="47.80" stroke="#a6a6a6" stroke-width="0.8"/>
<line x1="273.70" y1="64.99" x2="278.90" y2="64.99" stroke="#a6a6a6" stroke-width="0.8"/>
<line x1="295.40" y1="48.51" x2="295.40" y2="62.84" stroke="#a6a6a6" stroke-width="0.8"/>
<line x1="292.80" y1="48.51" x2="298.00" y2="48.51" stroke="#a6a6a6" stroke-width="0.8"/>
<line x1="292.80" y1="62.84" x2="298.00" y2="62.84" stroke="#a6a6a6" stroke-width="0.8"/>
<line x1="304.51" y1="46.36" x2="304.51" y2="59.26" stroke="#a6a6a6" stroke-width="0.8"/>
<line x1="301.91" y1="46.36" x2="307.11" y2="46.36" stroke="#a6a6a6" stroke-width="0.8"/>
<line x1="301.91" y1="59.26" x2="307.11" y2="59.26" stroke="#a6a6a6" stroke-width="0.8"/>
<polyline points="199.90,72.88 219.00,59.98 238.10,49.23 257.20,51.38 276.30,56.40 295.40,59.26 304.51,57.11" fill="none" stroke="#9c9c9c" stroke-width="1.4" stroke-linejoin="round"/>
<rect x="178.50" y="94.22" width="4.6" height="4.6" fill="#a0a0a0"/>
<rect x="197.60" y="70.58" width="4.6" height="4.6" fill="#a0a0a0"/>
<rect x="216.70" y="57.68" width="4.6" height="4.6" fill="#a0a0a0"/>
<rect x="235.80" y="46.93" width="4.6" height="4.6" fill="#a0a0a0"/>
<rect x="254.90" y="49.08" width="4.6" height="4.6" fill="#a0a0a0"/>
<rect x="274.00" y="54.10" width="4.6" height="4.6" fill="#a0a0a0"/>
<rect x="293.10" y="56.96" width="4.6" height="4.6" fill="#a0a0a0"/>
<rect x="302.21" y="54.81" width="4.6" height="4.6" fill="#a0a0a0"/>
<polyline points="199.90,92.22 219.00,80.04 238.10,60.69 257.20,51.38 276.30,56.40 295.40,55.68 304.51,52.81" fill="none" stroke="#000" stroke-width="1.4" stroke-linejoin="round"/>
<circle cx="180.80" cy="99.39" r="2.15" fill="#000"/>
<circle cx="199.90" cy="92.22" r="2.15" fill="#000"/>
<circle cx="219.00" cy="80.04" r="2.15" fill="#000"/>
<circle cx="238.10" cy="60.69" r="2.15" fill="#000"/>
<circle cx="257.20" cy="51.38" r="2.15" fill="#000"/>
<circle cx="276.30" cy="56.40" r="2.15" fill="#000"/>
<circle cx="295.40" cy="55.68" r="2.15" fill="#000"/>
<circle cx="304.51" cy="52.81" r="2.15" fill="#000"/>
<rect x="178.50" y="94.22" width="4.6" height="4.6" fill="#a0a0a0"/>
<circle cx="199.9" cy="58.3" r="1.2" fill="#000"/>
<circle cx="219.0" cy="45.8" r="1.2" fill="#000"/>
<text transform="translate(180.77,127.23) rotate(-43)" font-size="9.3" font-weight="bold" text-anchor="middle" fill="#000" stroke="#000" stroke-width="0.419">0</text>
<text transform="translate(201.07,127.23) rotate(-43)" font-size="9.3" font-weight="bold" text-anchor="middle" fill="#000" stroke="#000" stroke-width="0.419">0.001</text>
<text transform="translate(219.97,127.23) rotate(-43)" font-size="9.3" font-weight="bold" text-anchor="middle" fill="#000" stroke="#000" stroke-width="0.419">0.01</text>
<text transform="translate(238.07,127.23) rotate(-43)" font-size="9.3" font-weight="bold" text-anchor="middle" fill="#000" stroke="#000" stroke-width="0.419">0.1</text>
<text transform="translate(256.57,127.23) rotate(-43)" font-size="9.3" font-weight="bold" text-anchor="middle" fill="#000" stroke="#000" stroke-width="0.419">1</text>
<text transform="translate(275.37,127.23) rotate(-43)" font-size="9.3" font-weight="bold" text-anchor="middle" fill="#000" stroke="#000" stroke-width="0.419">10</text>
<text transform="translate(293.67,127.23) rotate(-43)" font-size="9.3" font-weight="bold" text-anchor="middle" fill="#000" stroke="#000" stroke-width="0.419">100</text>
<text transform="translate(311.07,127.23) rotate(-43)" font-size="9.3" font-weight="bold" text-anchor="middle" fill="#000" stroke="#000" stroke-width="0.419">1,000</text>
<text x="217.20" y="18.00" font-size="11.7" font-weight="bold" text-anchor="start" fill="#000" stroke="#000" stroke-width="0.526">MM.1R</text>
<text x="250.50" y="152.40" font-size="9.9" font-weight="bold" text-anchor="middle" fill="#000" stroke="#000" stroke-width="0.446">Elotuzumab (µg/mL)</text>
<text x="349.50" y="109.40" font-size="6.4" font-weight="bold" text-anchor="end" fill="#000" stroke="#000" stroke-width="0.288">0</text>
<text x="349.50" y="91.32" font-size="6.4" font-weight="bold" text-anchor="end" fill="#000" stroke="#000" stroke-width="0.288">25</text>
<text x="349.50" y="73.25" font-size="6.4" font-weight="bold" text-anchor="end" fill="#000" stroke="#000" stroke-width="0.288">50</text>
<text x="349.50" y="55.17" font-size="6.4" font-weight="bold" text-anchor="end" fill="#000" stroke="#000" stroke-width="0.288">75</text>
<text x="349.50" y="37.10" font-size="6.4" font-weight="bold" text-anchor="end" fill="#000" stroke="#000" stroke-width="0.288">100</text>
<text transform="translate(334.40,70.80) rotate(-90)" font-size="6.8" font-weight="bold" text-anchor="middle" fill="#000" stroke="#000" stroke-width="0.306">% Lysis</text>
<line x1="372.60" y1="97.41" x2="372.60" y2="107.10" stroke="#bdbdbd" stroke-width="0.8"/>
<line x1="370.00" y1="97.41" x2="375.20" y2="97.41" stroke="#bdbdbd" stroke-width="0.8"/>
<line x1="370.00" y1="107.10" x2="375.20" y2="107.10" stroke="#bdbdbd" stroke-width="0.8"/>
<line x1="391.90" y1="91.27" x2="391.90" y2="106.45" stroke="#bdbdbd" stroke-width="0.8"/>
<line x1="389.30" y1="91.27" x2="394.50" y2="91.27" stroke="#bdbdbd" stroke-width="0.8"/>
<line x1="389.30" y1="106.45" x2="394.50" y2="106.45" stroke="#bdbdbd" stroke-width="0.8"/>
<line x1="411.10" y1="82.88" x2="411.10" y2="107.10" stroke="#bdbdbd" stroke-width="0.8"/>
<line x1="408.50" y1="82.88" x2="413.70" y2="82.88" stroke="#bdbdbd" stroke-width="0.8"/>
<line x1="408.50" y1="107.10" x2="413.70" y2="107.10" stroke="#bdbdbd" stroke-width="0.8"/>
<line x1="430.30" y1="72.40" x2="430.30" y2="107.10" stroke="#bdbdbd" stroke-width="0.8"/>
<line x1="427.70" y1="72.40" x2="432.90" y2="72.40" stroke="#bdbdbd" stroke-width="0.8"/>
<line x1="427.70" y1="107.10" x2="432.90" y2="107.10" stroke="#bdbdbd" stroke-width="0.8"/>
<line x1="449.50" y1="76.01" x2="449.50" y2="102.76" stroke="#bdbdbd" stroke-width="0.8"/>
<line x1="446.90" y1="76.01" x2="452.10" y2="76.01" stroke="#bdbdbd" stroke-width="0.8"/>
<line x1="446.90" y1="102.76" x2="452.10" y2="102.76" stroke="#bdbdbd" stroke-width="0.8"/>
<line x1="468.70" y1="81.07" x2="468.70" y2="102.76" stroke="#bdbdbd" stroke-width="0.8"/>
<line x1="466.10" y1="81.07" x2="471.30" y2="81.07" stroke="#bdbdbd" stroke-width="0.8"/>
<line x1="466.10" y1="102.76" x2="471.30" y2="102.76" stroke="#bdbdbd" stroke-width="0.8"/>
<line x1="487.90" y1="81.79" x2="487.90" y2="103.48" stroke="#bdbdbd" stroke-width="0.8"/>
<line x1="485.30" y1="81.79" x2="490.50" y2="81.79" stroke="#bdbdbd" stroke-width="0.8"/>
<line x1="485.30" y1="103.48" x2="490.50" y2="103.48" stroke="#bdbdbd" stroke-width="0.8"/>
<line x1="497.06" y1="81.07" x2="497.06" y2="101.32" stroke="#bdbdbd" stroke-width="0.8"/>
<line x1="494.46" y1="81.07" x2="499.66" y2="81.07" stroke="#bdbdbd" stroke-width="0.8"/>
<line x1="494.46" y1="101.32" x2="499.66" y2="101.32" stroke="#bdbdbd" stroke-width="0.8"/>
<line x1="372.60" y1="100.23" x2="372.60" y2="107.10" stroke="#a6a6a6" stroke-width="0.8"/>
<line x1="370.00" y1="100.23" x2="375.20" y2="100.23" stroke="#a6a6a6" stroke-width="0.8"/>
<line x1="370.00" y1="107.10" x2="375.20" y2="107.10" stroke="#a6a6a6" stroke-width="0.8"/>
<line x1="391.90" y1="102.11" x2="391.90" y2="106.45" stroke="#a6a6a6" stroke-width="0.8"/>
<line x1="389.30" y1="102.11" x2="394.50" y2="102.11" stroke="#a6a6a6" stroke-width="0.8"/>
<line x1="389.30" y1="106.45" x2="394.50" y2="106.45" stroke="#a6a6a6" stroke-width="0.8"/>
<line x1="411.10" y1="100.95" x2="411.10" y2="106.74" stroke="#a6a6a6" stroke-width="0.8"/>
<line x1="408.50" y1="100.95" x2="413.70" y2="100.95" stroke="#a6a6a6" stroke-width="0.8"/>
<line x1="408.50" y1="106.74" x2="413.70" y2="106.74" stroke="#a6a6a6" stroke-width="0.8"/>
<line x1="430.30" y1="96.62" x2="430.30" y2="105.29" stroke="#a6a6a6" stroke-width="0.8"/>
<line x1="427.70" y1="96.62" x2="432.90" y2="96.62" stroke="#a6a6a6" stroke-width="0.8"/>
<line x1="427.70" y1="105.29" x2="432.90" y2="105.29" stroke="#a6a6a6" stroke-width="0.8"/>
<line x1="449.50" y1="90.47" x2="449.50" y2="104.93" stroke="#a6a6a6" stroke-width="0.8"/>
<line x1="446.90" y1="90.47" x2="452.10" y2="90.47" stroke="#a6a6a6" stroke-width="0.8"/>
<line x1="446.90" y1="104.93" x2="452.10" y2="104.93" stroke="#a6a6a6" stroke-width="0.8"/>
<line x1="468.70" y1="87.94" x2="468.70" y2="105.29" stroke="#a6a6a6" stroke-width="0.8"/>
<line x1="466.10" y1="87.94" x2="471.30" y2="87.94" stroke="#a6a6a6" stroke-width="0.8"/>
<line x1="466.10" y1="105.29" x2="471.30" y2="105.29" stroke="#a6a6a6" stroke-width="0.8"/>
<line x1="487.90" y1="85.05" x2="487.90" y2="105.29" stroke="#a6a6a6" stroke-width="0.8"/>
<line x1="485.30" y1="85.05" x2="490.50" y2="85.05" stroke="#a6a6a6" stroke-width="0.8"/>
<line x1="485.30" y1="105.29" x2="490.50" y2="105.29" stroke="#a6a6a6" stroke-width="0.8"/>
<line x1="497.06" y1="84.33" x2="497.06" y2="104.57" stroke="#a6a6a6" stroke-width="0.8"/>
<line x1="494.46" y1="84.33" x2="499.66" y2="84.33" stroke="#a6a6a6" stroke-width="0.8"/>
<line x1="494.46" y1="104.57" x2="499.66" y2="104.57" stroke="#a6a6a6" stroke-width="0.8"/>
<polyline points="391.90,98.86 411.10,95.17 430.30,89.75 449.50,89.39 468.70,91.92 487.90,92.64 497.06,91.19" fill="none" stroke="#9c9c9c" stroke-width="1.4" stroke-linejoin="round"/>
<rect x="370.30" y="100.90" width="4.6" height="4.6" fill="#a0a0a0"/>
<rect x="389.60" y="96.56" width="4.6" height="4.6" fill="#a0a0a0"/>
<rect x="408.80" y="92.87" width="4.6" height="4.6" fill="#a0a0a0"/>
<rect x="428.00" y="87.45" width="4.6" height="4.6" fill="#a0a0a0"/>
<rect x="447.20" y="87.09" width="4.6" height="4.6" fill="#a0a0a0"/>
<rect x="466.40" y="89.62" width="4.6" height="4.6" fill="#a0a0a0"/>
<rect x="485.60" y="90.34" width="4.6" height="4.6" fill="#a0a0a0"/>
<rect x="494.76" y="88.89" width="4.6" height="4.6" fill="#a0a0a0"/>
<polyline points="391.90,104.28 411.10,103.85 430.30,100.95 449.50,97.70 468.70,96.62 487.90,95.17 497.06,94.45" fill="none" stroke="#000" stroke-width="1.4" stroke-linejoin="round"/>
<circle cx="372.60" cy="103.85" r="2.15" fill="#000"/>
<circle cx="391.90" cy="104.28" r="2.15" fill="#000"/>
<circle cx="411.10" cy="103.85" r="2.15" fill="#000"/>
<circle cx="430.30" cy="100.95" r="2.15" fill="#000"/>
<circle cx="449.50" cy="97.70" r="2.15" fill="#000"/>
<circle cx="468.70" cy="96.62" r="2.15" fill="#000"/>
<circle cx="487.90" cy="95.17" r="2.15" fill="#000"/>
<circle cx="497.06" cy="94.45" r="2.15" fill="#000"/>
<rect x="370.30" y="100.90" width="4.6" height="4.6" fill="#a0a0a0"/>
<text transform="translate(371.07,126.53) rotate(-43)" font-size="9.3" font-weight="bold" text-anchor="middle" fill="#000" stroke="#000" stroke-width="0.419">0</text>
<text transform="translate(391.47,126.53) rotate(-43)" font-size="9.3" font-weight="bold" text-anchor="middle" fill="#000" stroke="#000" stroke-width="0.419">0.001</text>
<text transform="translate(409.97,126.53) rotate(-43)" font-size="9.3" font-weight="bold" text-anchor="middle" fill="#000" stroke="#000" stroke-width="0.419">0.01</text>
<text transform="translate(428.17,126.53) rotate(-43)" font-size="9.3" font-weight="bold" text-anchor="middle" fill="#000" stroke="#000" stroke-width="0.419">0.1</text>
<text transform="translate(447.67,126.53) rotate(-43)" font-size="9.3" font-weight="bold" text-anchor="middle" fill="#000" stroke="#000" stroke-width="0.419">1</text>
<text transform="translate(466.27,126.53) rotate(-43)" font-size="9.3" font-weight="bold" text-anchor="middle" fill="#000" stroke="#000" stroke-width="0.419">10</text>
<text transform="translate(484.47,126.53) rotate(-43)" font-size="9.3" font-weight="bold" text-anchor="middle" fill="#000" stroke="#000" stroke-width="0.419">100</text>
<text transform="translate(501.07,126.53) rotate(-43)" font-size="9.3" font-weight="bold" text-anchor="middle" fill="#000" stroke="#000" stroke-width="0.419">1,000</text>
<text x="390.30" y="18.20" font-size="11.7" font-weight="bold" text-anchor="start" fill="#000" stroke="#000" stroke-width="0.526">MM.1R SLAMF7KO</text>
<text x="439.30" y="150.90" font-size="9.9" font-weight="bold" text-anchor="middle" fill="#000" stroke="#000" stroke-width="0.446">Elotuzumab (µg/mL)</text>
<text x="156.70" y="300.00" font-size="6.4" font-weight="bold" text-anchor="end" fill="#000" stroke="#000" stroke-width="0.288">0</text>
<text x="156.70" y="281.98" font-size="6.4" font-weight="bold" text-anchor="end" fill="#000" stroke="#000" stroke-width="0.288">25</text>
<text x="156.70" y="263.95" font-size="6.4" font-weight="bold" text-anchor="end" fill="#000" stroke="#000" stroke-width="0.288">50</text>
<text x="156.70" y="245.93" font-size="6.4" font-weight="bold" text-anchor="end" fill="#000" stroke="#000" stroke-width="0.288">75</text>
<text x="156.70" y="227.90" font-size="6.4" font-weight="bold" text-anchor="end" fill="#000" stroke="#000" stroke-width="0.288">100</text>
<text transform="translate(143.30,260.20) rotate(-90)" font-size="6.8" font-weight="bold" text-anchor="middle" fill="#000" stroke="#000" stroke-width="0.306">% Lysis</text>
<line x1="180.00" y1="295.54" x2="180.00" y2="297.70" stroke="#bdbdbd" stroke-width="0.8"/>
<line x1="177.40" y1="295.54" x2="182.60" y2="295.54" stroke="#bdbdbd" stroke-width="0.8"/>
<line x1="177.40" y1="297.70" x2="182.60" y2="297.70" stroke="#bdbdbd" stroke-width="0.8"/>
<line x1="237.54" y1="293.73" x2="237.54" y2="297.70" stroke="#bdbdbd" stroke-width="0.8"/>
<line x1="234.94" y1="293.73" x2="240.14" y2="293.73" stroke="#bdbdbd" stroke-width="0.8"/>
<line x1="234.94" y1="297.70" x2="240.14" y2="297.70" stroke="#bdbdbd" stroke-width="0.8"/>
<line x1="256.71" y1="288.62" x2="256.71" y2="297.70" stroke="#bdbdbd" stroke-width="0.8"/>
<line x1="254.11" y1="288.62" x2="259.31" y2="288.62" stroke="#bdbdbd" stroke-width="0.8"/>
<line x1="254.11" y1="297.70" x2="259.31" y2="297.70" stroke="#bdbdbd" stroke-width="0.8"/>
<line x1="275.88" y1="289.62" x2="275.88" y2="296.83" stroke="#bdbdbd" stroke-width="0.8"/>
<line x1="273.28" y1="289.62" x2="278.48" y2="289.62" stroke="#bdbdbd" stroke-width="0.8"/>
<line x1="273.28" y1="296.83" x2="278.48" y2="296.83" stroke="#bdbdbd" stroke-width="0.8"/>
<line x1="295.05" y1="288.90" x2="295.05" y2="296.11" stroke="#bdbdbd" stroke-width="0.8"/>
<line x1="292.45" y1="288.90" x2="297.65" y2="288.90" stroke="#bdbdbd" stroke-width="0.8"/>
<line x1="292.45" y1="296.11" x2="297.65" y2="296.11" stroke="#bdbdbd" stroke-width="0.8"/>
<line x1="304.20" y1="286.67" x2="304.20" y2="296.04" stroke="#bdbdbd" stroke-width="0.8"/>
<line x1="301.60" y1="286.67" x2="306.80" y2="286.67" stroke="#bdbdbd" stroke-width="0.8"/>
<line x1="301.60" y1="296.04" x2="306.80" y2="296.04" stroke="#bdbdbd" stroke-width="0.8"/>
<line x1="180.00" y1="292.29" x2="180.00" y2="297.70" stroke="#a6a6a6" stroke-width="0.8"/>
<line x1="177.40" y1="292.29" x2="182.60" y2="292.29" stroke="#a6a6a6" stroke-width="0.8"/>
<line x1="177.40" y1="297.70" x2="182.60" y2="297.70" stroke="#a6a6a6" stroke-width="0.8"/>
<line x1="237.54" y1="295.54" x2="237.54" y2="297.70" stroke="#a6a6a6" stroke-width="0.8"/>
<line x1="234.94" y1="295.54" x2="240.14" y2="295.54" stroke="#a6a6a6" stroke-width="0.8"/>
<line x1="234.94" y1="297.70" x2="240.14" y2="297.70" stroke="#a6a6a6" stroke-width="0.8"/>
<line x1="256.71" y1="288.69" x2="256.71" y2="297.70" stroke="#a6a6a6" stroke-width="0.8"/>
<line x1="254.11" y1="288.69" x2="259.31" y2="288.69" stroke="#a6a6a6" stroke-width="0.8"/>
<line x1="254.11" y1="297.70" x2="259.31" y2="297.70" stroke="#a6a6a6" stroke-width="0.8"/>
<line x1="275.88" y1="284.87" x2="275.88" y2="297.12" stroke="#a6a6a6" stroke-width="0.8"/>
<line x1="273.28" y1="284.87" x2="278.48" y2="284.87" stroke="#a6a6a6" stroke-width="0.8"/>
<line x1="273.28" y1="297.12" x2="278.48" y2="297.12" stroke="#a6a6a6" stroke-width="0.8"/>
<line x1="295.05" y1="284.07" x2="295.05" y2="296.33" stroke="#a6a6a6" stroke-width="0.8"/>
<line x1="292.45" y1="284.07" x2="297.65" y2="284.07" stroke="#a6a6a6" stroke-width="0.8"/>
<line x1="292.45" y1="296.33" x2="297.65" y2="296.33" stroke="#a6a6a6" stroke-width="0.8"/>
<line x1="304.20" y1="283.71" x2="304.20" y2="295.83" stroke="#a6a6a6" stroke-width="0.8"/>
<line x1="301.60" y1="283.71" x2="306.80" y2="283.71" stroke="#a6a6a6" stroke-width="0.8"/>
<line x1="301.60" y1="295.83" x2="306.80" y2="295.83" stroke="#a6a6a6" stroke-width="0.8"/>
<polyline points="199.20,297.34 218.37,297.34 237.54,296.98 256.71,293.73 275.88,290.99 295.05,290.20 304.20,289.77" fill="none" stroke="#000" stroke-width="1.4" stroke-linejoin="round"/>
<path d="M180.00,292.48 L182.70,295.18 L180.00,297.88 L177.30,295.18 Z" fill="#000"/>
<path d="M199.20,294.64 L201.90,297.34 L199.20,300.04 L196.50,297.34 Z" fill="#000"/>
<path d="M218.37,294.64 L221.07,297.34 L218.37,300.04 L215.67,297.34 Z" fill="#000"/>
<path d="M237.54,294.28 L240.24,296.98 L237.54,299.68 L234.84,296.98 Z" fill="#000"/>
<path d="M256.71,291.03 L259.41,293.73 L256.71,296.43 L254.01,293.73 Z" fill="#000"/>
<path d="M275.88,288.29 L278.58,290.99 L275.88,293.69 L273.18,290.99 Z" fill="#000"/>
<path d="M295.05,287.50 L297.75,290.20 L295.05,292.90 L292.35,290.20 Z" fill="#000"/>
<path d="M304.20,287.07 L306.90,289.77 L304.20,292.47 L301.50,289.77 Z" fill="#000"/>
<polyline points="199.20,297.34 218.37,297.34 237.54,295.90 256.71,293.66 275.88,293.23 295.05,292.51 304.20,291.36" fill="none" stroke="#9c9c9c" stroke-width="1.4" stroke-linejoin="round"/>
<rect x="177.70" y="294.68" width="4.6" height="4.6" fill="#a0a0a0"/>
<rect x="196.90" y="295.04" width="4.6" height="4.6" fill="#a0a0a0"/>
<rect x="216.07" y="295.04" width="4.6" height="4.6" fill="#a0a0a0"/>
<rect x="235.24" y="293.60" width="4.6" height="4.6" fill="#a0a0a0"/>
<rect x="254.41" y="291.36" width="4.6" height="4.6" fill="#a0a0a0"/>
<rect x="273.58" y="290.93" width="4.6" height="4.6" fill="#a0a0a0"/>
<rect x="292.75" y="290.21" width="4.6" height="4.6" fill="#a0a0a0"/>
<rect x="301.90" y="289.06" width="4.6" height="4.6" fill="#a0a0a0"/>
<text transform="translate(180.27,317.13) rotate(-43)" font-size="9.3" font-weight="bold" text-anchor="middle" fill="#000" stroke="#000" stroke-width="0.419">0</text>
<text transform="translate(199.77,317.13) rotate(-43)" font-size="9.3" font-weight="bold" text-anchor="middle" fill="#000" stroke="#000" stroke-width="0.419">0.001</text>
<text transform="translate(220.77,317.13) rotate(-43)" font-size="9.3" font-weight="bold" text-anchor="middle" fill="#000" stroke="#000" stroke-width="0.419">0.01</text>
<text transform="translate(239.07,317.13) rotate(-43)" font-size="9.3" font-weight="bold" text-anchor="middle" fill="#000" stroke="#000" stroke-width="0.419">0.1</text>
<text transform="translate(257.67,317.13) rotate(-43)" font-size="9.3" font-weight="bold" text-anchor="middle" fill="#000" stroke="#000" stroke-width="0.419">1</text>
<text transform="translate(277.67,317.13) rotate(-43)" font-size="9.3" font-weight="bold" text-anchor="middle" fill="#000" stroke="#000" stroke-width="0.419">10</text>
<text transform="translate(295.47,317.13) rotate(-43)" font-size="9.3" font-weight="bold" text-anchor="middle" fill="#000" stroke="#000" stroke-width="0.419">100</text>
<text transform="translate(312.07,317.13) rotate(-43)" font-size="9.3" font-weight="bold" text-anchor="middle" fill="#000" stroke="#000" stroke-width="0.419">1,000</text>
<text x="205.30" y="208.00" font-size="11.7" font-weight="bold" text-anchor="start" fill="#000" stroke="#000" stroke-width="0.526">RPMI8226</text>
<text x="252.40" y="341.40" font-size="9.9" font-weight="bold" text-anchor="middle" fill="#000" stroke="#000" stroke-width="0.446">Elotuzumab (µg/mL)</text>
<text x="349.00" y="300.60" font-size="6.4" font-weight="bold" text-anchor="end" fill="#000" stroke="#000" stroke-width="0.288">0</text>
<text x="349.00" y="282.43" font-size="6.4" font-weight="bold" text-anchor="end" fill="#000" stroke="#000" stroke-width="0.288">25</text>
<text x="349.00" y="264.25" font-size="6.4" font-weight="bold" text-anchor="end" fill="#000" stroke="#000" stroke-width="0.288">50</text>
<text x="349.00" y="246.08" font-size="6.4" font-weight="bold" text-anchor="end" fill="#000" stroke="#000" stroke-width="0.288">75</text>
<text x="349.00" y="227.90" font-size="6.4" font-weight="bold" text-anchor="end" fill="#000" stroke="#000" stroke-width="0.288">100</text>
<text transform="translate(335.30,260.90) rotate(-90)" font-size="6.8" font-weight="bold" text-anchor="middle" fill="#000" stroke="#000" stroke-width="0.306">% Lysis</text>
<line x1="372.60" y1="259.77" x2="372.60" y2="296.12" stroke="#bdbdbd" stroke-width="0.8"/>
<line x1="370.00" y1="259.77" x2="375.20" y2="259.77" stroke="#bdbdbd" stroke-width="0.8"/>
<line x1="370.00" y1="296.12" x2="375.20" y2="296.12" stroke="#bdbdbd" stroke-width="0.8"/>
<line x1="391.80" y1="243.05" x2="391.80" y2="280.85" stroke="#bdbdbd" stroke-width="0.8"/>
<line x1="389.20" y1="243.05" x2="394.40" y2="243.05" stroke="#bdbdbd" stroke-width="0.8"/>
<line x1="389.20" y1="280.85" x2="394.40" y2="280.85" stroke="#bdbdbd" stroke-width="0.8"/>
<line x1="411.20" y1="234.32" x2="411.20" y2="260.50" stroke="#bdbdbd" stroke-width="0.8"/>
<line x1="408.60" y1="234.32" x2="413.80" y2="234.32" stroke="#bdbdbd" stroke-width="0.8"/>
<line x1="408.60" y1="260.50" x2="413.80" y2="260.50" stroke="#bdbdbd" stroke-width="0.8"/>
<line x1="430.60" y1="226.69" x2="430.60" y2="252.14" stroke="#bdbdbd" stroke-width="0.8"/>
<line x1="428.00" y1="226.69" x2="433.20" y2="226.69" stroke="#bdbdbd" stroke-width="0.8"/>
<line x1="428.00" y1="252.14" x2="433.20" y2="252.14" stroke="#bdbdbd" stroke-width="0.8"/>
<line x1="450.00" y1="226.33" x2="450.00" y2="253.23" stroke="#bdbdbd" stroke-width="0.8"/>
<line x1="447.40" y1="226.33" x2="452.60" y2="226.33" stroke="#bdbdbd" stroke-width="0.8"/>
<line x1="447.40" y1="253.23" x2="452.60" y2="253.23" stroke="#bdbdbd" stroke-width="0.8"/>
<line x1="469.40" y1="227.42" x2="469.40" y2="255.04" stroke="#bdbdbd" stroke-width="0.8"/>
<line x1="466.80" y1="227.42" x2="472.00" y2="227.42" stroke="#bdbdbd" stroke-width="0.8"/>
<line x1="466.80" y1="255.04" x2="472.00" y2="255.04" stroke="#bdbdbd" stroke-width="0.8"/>
<line x1="488.80" y1="229.96" x2="488.80" y2="254.68" stroke="#bdbdbd" stroke-width="0.8"/>
<line x1="486.20" y1="229.96" x2="491.40" y2="229.96" stroke="#bdbdbd" stroke-width="0.8"/>
<line x1="486.20" y1="254.68" x2="491.40" y2="254.68" stroke="#bdbdbd" stroke-width="0.8"/>
<line x1="498.06" y1="229.23" x2="498.06" y2="253.23" stroke="#bdbdbd" stroke-width="0.8"/>
<line x1="495.46" y1="229.23" x2="500.66" y2="229.23" stroke="#bdbdbd" stroke-width="0.8"/>
<line x1="495.46" y1="253.23" x2="500.66" y2="253.23" stroke="#bdbdbd" stroke-width="0.8"/>
<line x1="372.60" y1="283.76" x2="372.60" y2="295.39" stroke="#a6a6a6" stroke-width="0.8"/>
<line x1="370.00" y1="283.76" x2="375.20" y2="283.76" stroke="#a6a6a6" stroke-width="0.8"/>
<line x1="370.00" y1="295.39" x2="375.20" y2="295.39" stroke="#a6a6a6" stroke-width="0.8"/>
<line x1="391.80" y1="270.67" x2="391.80" y2="289.58" stroke="#a6a6a6" stroke-width="0.8"/>
<line x1="389.20" y1="270.67" x2="394.40" y2="270.67" stroke="#a6a6a6" stroke-width="0.8"/>
<line x1="389.20" y1="289.58" x2="394.40" y2="289.58" stroke="#a6a6a6" stroke-width="0.8"/>
<line x1="411.20" y1="253.95" x2="411.20" y2="277.22" stroke="#a6a6a6" stroke-width="0.8"/>
<line x1="408.60" y1="253.95" x2="413.80" y2="253.95" stroke="#a6a6a6" stroke-width="0.8"/>
<line x1="408.60" y1="277.22" x2="413.80" y2="277.22" stroke="#a6a6a6" stroke-width="0.8"/>
<line x1="430.60" y1="233.60" x2="430.60" y2="259.77" stroke="#a6a6a6" stroke-width="0.8"/>
<line x1="428.00" y1="233.60" x2="433.20" y2="233.60" stroke="#a6a6a6" stroke-width="0.8"/>
<line x1="428.00" y1="259.77" x2="433.20" y2="259.77" stroke="#a6a6a6" stroke-width="0.8"/>
<line x1="450.00" y1="225.96" x2="450.00" y2="249.23" stroke="#a6a6a6" stroke-width="0.8"/>
<line x1="447.40" y1="225.96" x2="452.60" y2="225.96" stroke="#a6a6a6" stroke-width="0.8"/>
<line x1="447.40" y1="249.23" x2="452.60" y2="249.23" stroke="#a6a6a6" stroke-width="0.8"/>
<line x1="469.40" y1="225.24" x2="469.40" y2="247.05" stroke="#a6a6a6" stroke-width="0.8"/>
<line x1="466.80" y1="225.24" x2="472.00" y2="225.24" stroke="#a6a6a6" stroke-width="0.8"/>
<line x1="466.80" y1="247.05" x2="472.00" y2="247.05" stroke="#a6a6a6" stroke-width="0.8"/>
<line x1="488.80" y1="226.33" x2="488.80" y2="240.87" stroke="#a6a6a6" stroke-width="0.8"/>
<line x1="486.20" y1="226.33" x2="491.40" y2="226.33" stroke="#a6a6a6" stroke-width="0.8"/>
<line x1="486.20" y1="240.87" x2="491.40" y2="240.87" stroke="#a6a6a6" stroke-width="0.8"/>
<line x1="498.06" y1="229.60" x2="498.06" y2="247.05" stroke="#a6a6a6" stroke-width="0.8"/>
<line x1="495.46" y1="229.60" x2="500.66" y2="229.60" stroke="#a6a6a6" stroke-width="0.8"/>
<line x1="495.46" y1="247.05" x2="500.66" y2="247.05" stroke="#a6a6a6" stroke-width="0.8"/>
<polyline points="391.80,261.95 411.20,247.41 430.60,239.41 450.00,239.78 469.40,241.23 488.80,242.32 498.06,241.23" fill="none" stroke="#9c9c9c" stroke-width="1.4" stroke-linejoin="round"/>
<rect x="370.30" y="275.64" width="4.6" height="4.6" fill="#a0a0a0"/>
<rect x="389.50" y="259.65" width="4.6" height="4.6" fill="#a0a0a0"/>
<rect x="408.90" y="245.11" width="4.6" height="4.6" fill="#a0a0a0"/>
<rect x="428.30" y="237.11" width="4.6" height="4.6" fill="#a0a0a0"/>
<rect x="447.70" y="237.48" width="4.6" height="4.6" fill="#a0a0a0"/>
<rect x="467.10" y="238.93" width="4.6" height="4.6" fill="#a0a0a0"/>
<rect x="486.50" y="240.02" width="4.6" height="4.6" fill="#a0a0a0"/>
<rect x="495.76" y="238.93" width="4.6" height="4.6" fill="#a0a0a0"/>
<polyline points="391.80,280.12 411.20,265.58 430.60,246.68 450.00,237.60 469.40,236.14 488.80,233.60 498.06,238.32" fill="none" stroke="#000" stroke-width="1.4" stroke-linejoin="round"/>
<circle cx="372.60" cy="289.58" r="2.15" fill="#000"/>
<circle cx="391.80" cy="280.12" r="2.15" fill="#000"/>
<circle cx="411.20" cy="265.58" r="2.15" fill="#000"/>
<circle cx="430.60" cy="246.68" r="2.15" fill="#000"/>
<circle cx="450.00" cy="237.60" r="2.15" fill="#000"/>
<circle cx="469.40" cy="236.14" r="2.15" fill="#000"/>
<circle cx="488.80" cy="233.60" r="2.15" fill="#000"/>
<circle cx="498.06" cy="238.32" r="2.15" fill="#000"/>
<rect x="370.30" y="275.64" width="4.6" height="4.6" fill="#a0a0a0"/>
<text transform="translate(375.37,317.23) rotate(-43)" font-size="9.3" font-weight="bold" text-anchor="middle" fill="#000" stroke="#000" stroke-width="0.419">0</text>
<text transform="translate(393.07,317.23) rotate(-43)" font-size="9.3" font-weight="bold" text-anchor="middle" fill="#000" stroke="#000" stroke-width="0.419">0.001</text>
<text transform="translate(416.37,317.23) rotate(-43)" font-size="9.3" font-weight="bold" text-anchor="middle" fill="#000" stroke="#000" stroke-width="0.419">0.01</text>
<text transform="translate(434.77,317.23) rotate(-43)" font-size="9.3" font-weight="bold" text-anchor="middle" fill="#000" stroke="#000" stroke-width="0.419">0.1</text>
<text transform="translate(453.37,317.23) rotate(-43)" font-size="9.3" font-weight="bold" text-anchor="middle" fill="#000" stroke="#000" stroke-width="0.419">1</text>
<text transform="translate(473.67,317.23) rotate(-43)" font-size="9.3" font-weight="bold" text-anchor="middle" fill="#000" stroke="#000" stroke-width="0.419">10</text>
<text transform="translate(491.47,317.23) rotate(-43)" font-size="9.3" font-weight="bold" text-anchor="middle" fill="#000" stroke="#000" stroke-width="0.419">100</text>
<text transform="translate(508.07,317.23) rotate(-43)" font-size="9.3" font-weight="bold" text-anchor="middle" fill="#000" stroke="#000" stroke-width="0.419">1,000</text>
<text x="381.00" y="208.20" font-size="11.7" font-weight="bold" text-anchor="start" fill="#000" stroke="#000" stroke-width="0.526">RPMI8226 + SLAMF7</text>
<text x="447.10" y="341.40" font-size="9.9" font-weight="bold" text-anchor="middle" fill="#000" stroke="#000" stroke-width="0.446">Elotuzumab (µg/mL)</text>
</g></svg></body></html>
